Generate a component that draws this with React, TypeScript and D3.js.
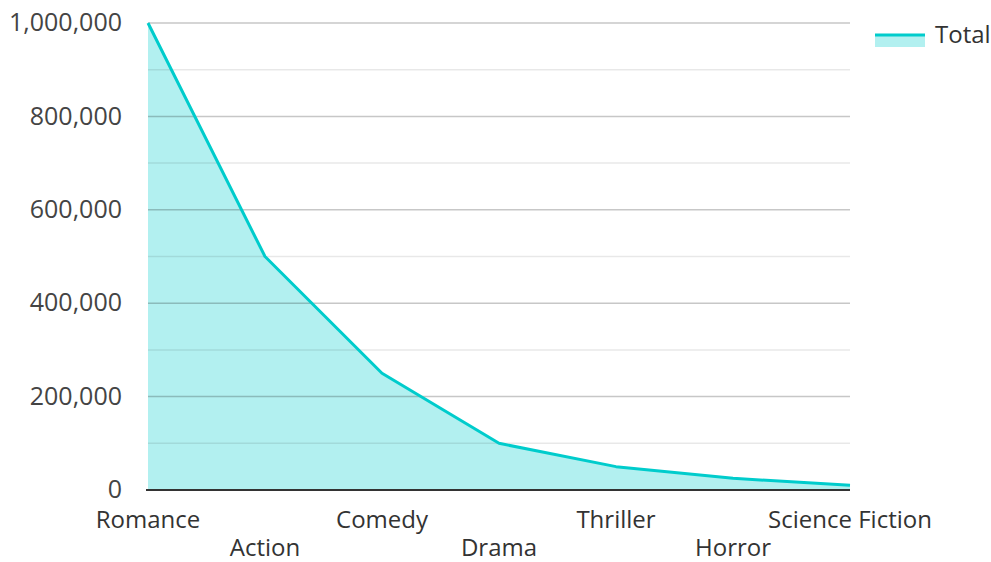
import React, { useEffect, useRef } from "react";
import * as d3 from "d3";

// data ---------------------------------------------------------
const genres = ["Romance", "Action", "Comedy", "Drama", "Thriller", "Horror", "Science Fiction"];
const totals = [1000000, 500000, 250000, 100000, 50000, 25000, 10000];
const majorTicks = [0, 200000, 400000, 600000, 800000, 1000000];
const minorTicks = [100000, 300000, 500000, 700000, 900000];
const seriesName = "Total";

const App = () => {
    const ref = useRef<SVGSVGElement>(null);
    const [width, height] = [991, 562];
    const margin = { left: 148, right: 141, top: 23, bottom: 72 };
    const teal = "#00cccc";

    useEffect(() => {
        const svg = d3.select(ref.current);
        svg.selectAll("*").remove();
        const font = "'Open Sans', 'Noto Sans', sans-serif";

        const x = d3.scalePoint<string>()
            .domain(genres)
            .range([margin.left, width - margin.right]);
        const y = d3.scaleLinear()
            .domain([0, 1000000])
            .range([height - margin.bottom, margin.top]);

        // area under line
        const area = d3.area<number>()
            .x((d, i) => x(genres[i]) as number)
            .y0(y(0))
            .y1((d) => y(d));
        svg.append("path")
            .datum(totals)
            .attr("d", area)
            .attr("fill", teal)
            .attr("fill-opacity", 0.3);

        // gridlines
        svg.append("g")
            .selectAll("line")
            .data(minorTicks)
            .join("line")
            .attr("x1", margin.left)
            .attr("x2", width - margin.right)
            .attr("y1", (d) => y(d))
            .attr("y2", (d) => y(d))
            .attr("stroke", "#000")
            .attr("stroke-opacity", 0.09)
            .attr("stroke-width", 1.5);
        svg.append("g")
            .selectAll("line")
            .data(majorTicks.filter((d) => d > 0))
            .join("line")
            .attr("x1", margin.left)
            .attr("x2", width - margin.right)
            .attr("y1", (d) => y(d))
            .attr("y2", (d) => y(d))
            .attr("stroke", "#000")
            .attr("stroke-opacity", 0.22)
            .attr("stroke-width", 1.5);

        // y labels
        svg.append("g")
            .selectAll("text")
            .data(majorTicks)
            .join("text")
            .attr("x", margin.left - 26)
            .attr("y", (d) => y(d))
            .attr("dy", "0.33em")
            .attr("text-anchor", "end")
            .attr("font-family", font)
            .attr("font-size", 25)
            .attr("fill", "#444")
            .text((d) => d3.format(",")(d));

        // line
        const line = d3.line<number>()
            .x((d, i) => x(genres[i]) as number)
            .y((d) => y(d));
        svg.append("path")
            .datum(totals)
            .attr("d", line)
            .attr("fill", "none")
            .attr("stroke", teal)
            .attr("stroke-width", 3)
            .attr("stroke-linejoin", "round");

        // x axis baseline
        svg.append("line")
            .attr("x1", margin.left - 2)
            .attr("x2", width - margin.right)
            .attr("y1", y(0))
            .attr("y2", y(0))
            .attr("stroke", "#333")
            .attr("stroke-width", 2);

        // x labels, staggered
        svg.append("g")
            .selectAll("text")
            .data(genres)
            .join("text")
            .attr("x", (d) => x(d) as number)
            .attr("y", (d, i) => (i % 2 === 0 ? 528 : 556))
            .attr("text-anchor", "middle")
            .attr("font-family", font)
            .attr("font-size", 24)
            .attr("fill", "#333")
            .text((d) => d);

        // legend
        const legend = svg.append("g").attr("transform", "translate(875, 35)");
        legend.append("rect")
            .attr("x", 0).attr("y", 0)
            .attr("width", 50).attr("height", 12)
            .attr("fill", teal).attr("fill-opacity", 0.3);
        legend.append("line")
            .attr("x1", 0).attr("x2", 50)
            .attr("y1", 0).attr("y2", 0)
            .attr("stroke", teal).attr("stroke-width", 3);
        legend.append("text")
            .attr("x", 60).attr("y", 0)
            .attr("dy", "0.35em")
            .attr("font-family", font)
            .attr("font-size", 24)
            .attr("fill", "#333")
            .text(seriesName);
    }, []);

    return (
        <svg ref={ref} width={width} height={height}
            style={{ display: "block", position: "absolute", left: 0, top: 0, background: "#fff" }} />
    );
};

export default App;
